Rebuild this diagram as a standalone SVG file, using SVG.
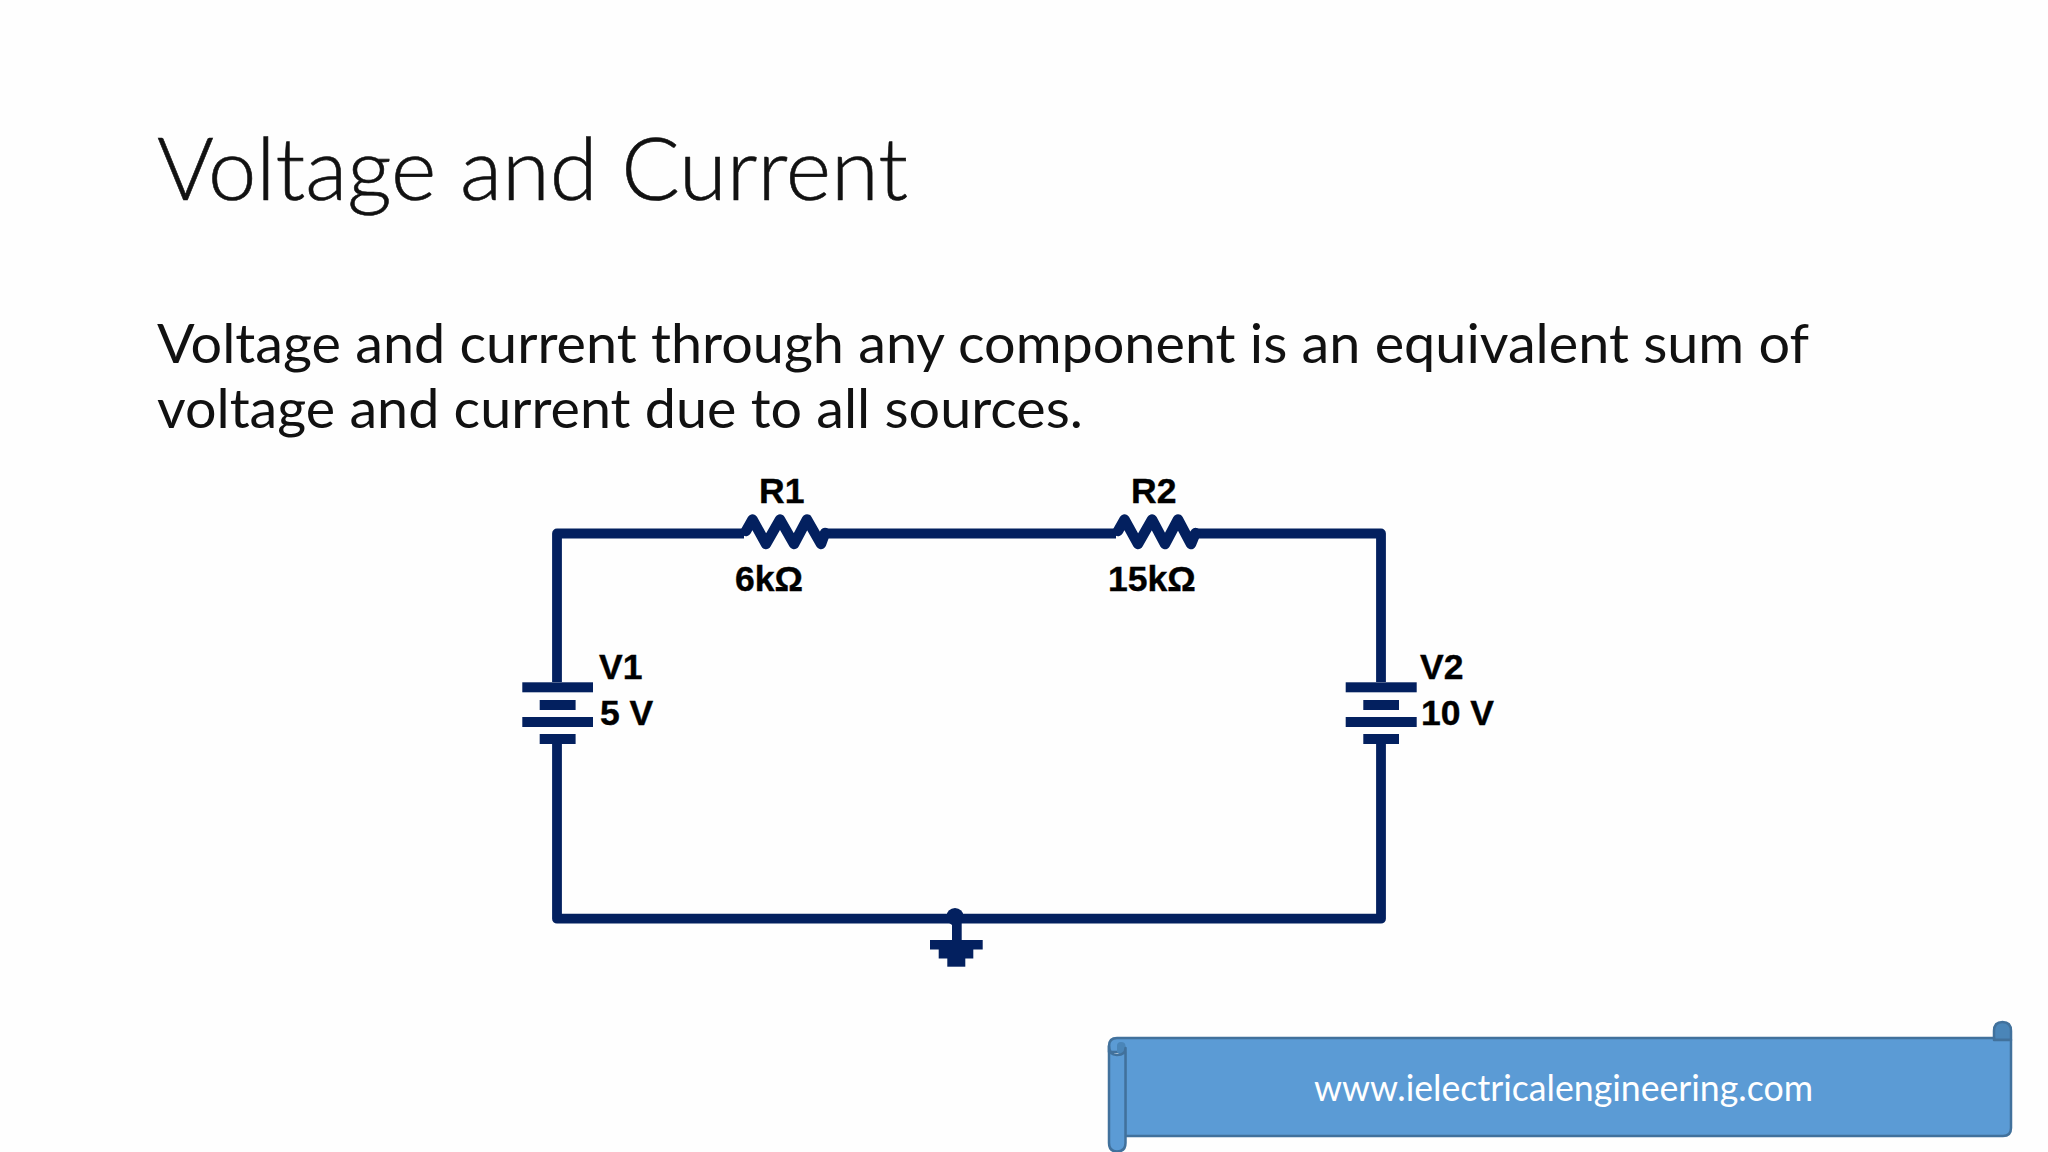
<svg xmlns="http://www.w3.org/2000/svg" width="2048" height="1152" viewBox="0 0 2048 1152">
<style>
.title{font-family:"Lato","Carlito","Open Sans",sans-serif;font-weight:300;font-size:86px;fill:#111;stroke:#111;stroke-width:.6}
.body{font-family:"Lato","Carlito","Open Sans",sans-serif;font-weight:400;font-size:55px;fill:#111}
.lbl{font-family:"Liberation Sans",Arial,sans-serif;font-weight:700;font-size:35.5px;fill:#000;stroke:#000;stroke-width:.4}
.wire{fill:none;stroke:#03205f;stroke-width:9.8;stroke-linejoin:round}
.res{stroke-width:10.5;stroke-linecap:round}
.plate{fill:#03205f}
.scroll{fill:#5b9bd5;stroke:#41719c;stroke-width:2.5;stroke-linejoin:round}
.curl{fill:#4a85b8}
.url{font-family:"Lato","Carlito","Open Sans",sans-serif;font-size:37px;fill:#fff}
</style>
<rect width="2048" height="1152" fill="#fefefe"/>
<text class="title" x="157" y="199.5" textLength="751" lengthAdjust="spacingAndGlyphs">Voltage and Current</text>
<text class="body" x="157" y="363" textLength="1652" lengthAdjust="spacingAndGlyphs">Voltage and current through any component is an equivalent sum of</text>
<text class="body" x="157" y="428" textLength="926" lengthAdjust="spacingAndGlyphs">voltage and current due to all sources.</text>
<g id="connectors">
<path class="wire" d="M557 682V533.5H744"/>
<path class="wire" d="M824 533.5H1116"/>
<path class="wire" d="M1195 533.5H1381V682"/>
<path class="wire" d="M557 744V918.7H1381V744"/>
</g>
<g id="R1">
<path class="wire res" d="M746 531L752.500 519.500L766 544L780 519.500L794 544L807 519.500L821 544L825 533"/>
<text class="lbl" x="759" y="503">R1</text>
<text class="lbl" x="735" y="591">6kΩ</text>
</g>
<g id="R2">
<path class="wire res" d="M1118 531L1124.500 519.500L1138 544L1152 519.500L1165 544L1178 519.500L1191 544L1195.500 533"/>
<text class="lbl" x="1131" y="503">R2</text>
<text class="lbl" x="1108" y="591">15kΩ</text>
</g>
<g id="V1">
<rect class="plate" x="522.3" y="682.3" width="70.7" height="10"/>
<rect class="plate" x="539.7" y="700" width="35.9" height="10"/>
<rect class="plate" x="522.3" y="717" width="70.7" height="10"/>
<rect class="plate" x="539.7" y="734" width="35.9" height="10"/>
<text class="lbl" x="599" y="679">V1</text>
<text class="lbl" x="600" y="725">5 V</text>
</g>
<g id="V2">
<rect class="plate" x="1345.7" y="682.3" width="71" height="10"/>
<rect class="plate" x="1363.3" y="700" width="35.7" height="10"/>
<rect class="plate" x="1345.7" y="717" width="71" height="10"/>
<rect class="plate" x="1363.3" y="734" width="35.7" height="10"/>
<text class="lbl" x="1420" y="679">V2</text>
<text class="lbl" x="1421" y="725">10 V</text>
</g>
<g id="ground">
<circle class="plate" cx="955" cy="916.7" r="8.7"/>
<rect class="plate" x="952" y="916" width="9.7" height="26"/>
<rect class="plate" x="930" y="940" width="52.7" height="9.5"/>
<rect class="plate" x="938.7" y="949" width="34.6" height="9.5"/>
<rect class="plate" x="947.3" y="958" width="18" height="8.7"/>
</g>
<g id="banner">
<path class="scroll curl" d="M1994 1038V1031Q1994 1022 2002.5 1022Q2011 1022 2011 1031V1040H1994Z"/>
<path class="scroll" d="M1117 1038H1994V1040H2011V1128Q2011 1136 2003 1136H1125V1052H1109V1046Q1109 1038 1117 1038Z"/>
<path class="curl" d="M1117 1052V1046Q1117 1042 1121 1042Q1125.5 1042 1125.5 1046V1053L1120 1055Z"/>
<path class="scroll" d="M1109 1046Q1109 1055 1117 1055Q1125.5 1055 1125.5 1048V1143Q1125.5 1151.5 1117 1151.5Q1109 1151.5 1109 1143Z"/>
<text class="url" x="1314" y="1101" textLength="499" lengthAdjust="spacingAndGlyphs">www.ielectricalengineering.com</text>
</g>
</svg>
